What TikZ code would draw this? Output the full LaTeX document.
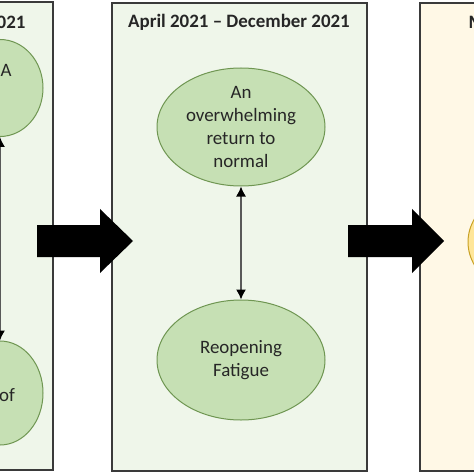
\documentclass[tikz,border=0pt]{standalone}
\usepackage{fontspec}
\setmainfont{Carlito}
\usetikzlibrary{arrows.meta,shapes.geometric}
\definecolor{panelgreen}{HTML}{EFF6EA}
\definecolor{paneltan}{HTML}{FFF8E6}
\definecolor{leafgreen}{HTML}{C6E0B4}
\definecolor{leafedge}{HTML}{6F9652}
\definecolor{sunfill}{HTML}{FFE699}
\definecolor{sunedge}{HTML}{C9A227}
\definecolor{frame}{HTML}{3A3A3A}
\definecolor{linkgray}{HTML}{595959}
\definecolor{ink}{HTML}{262626}

\begin{document}
\begin{tikzpicture}[x=1bp, y=-1bp,
  panel/.style={draw=frame, line width=1.2bp},
  phase/.style={ellipse, draw=leafedge, fill=leafgreen, line width=1bp, minimum width=168bp, minimum height=118bp, inner sep=0pt, align=center, text=ink, font=\fontsize{19}{23}\selectfont},
  phasetext/.style={text=ink, inner sep=0pt, font=\fontsize{19}{23}\selectfont},
  title/.style={font=\fontsize{19}{22}\selectfont\bfseries, text=ink},
  tie/.style={draw=linkgray, line width=1.3bp, {Latex[length=10bp,width=10bp,color=black]}-{Latex[length=10bp,width=10bp,color=black]}}]
\useasboundingbox (0,0) rectangle (474,474);
\clip (0,0) rectangle (474,474);
\fill[white] (0,0) rectangle (474,474);
% panels
\draw[panel, fill=panelgreen] (-202,2) rectangle (53,470);
\draw[panel, fill=panelgreen] (112,3) rectangle (367,471);
\draw[panel, fill=paneltan] (420,3) rectangle (675,471);
% titles
\node[title, anchor=east] (lefttitle) at (29,22) {021};
\node[title] (midtitle) at (239,22) {April 2021 – December 2021};
\node[title, anchor=west] (righttitle) at (465,22) {M};
% block arrows between panels
\fill[black] (37,225) -- (100,225) -- (100,209) -- (133,241) -- (100,273) -- (100,257) -- (37,257) -- cycle;
\fill[black] (348,225) -- (412,225) -- (412,209) -- (444,241) -- (412,273) -- (412,257) -- (348,257) -- cycle;
% left panel
\node[phase, minimum width=86bp, minimum height=97bp] (leftup) at (0,88) {};
\node[phasetext] (leftuptext) at (6,70) {A};
\node[phase, minimum width=86bp, minimum height=104bp] (leftdown) at (0,393) {};
\node[phasetext] (leftdowntext) at (7,395) {of};
\draw[tie] (leftup) -- (leftdown);
% middle panel
\node[phase] (return) at (241,127) {An\\overwhelming\\return to\\normal};
\node[phase, minimum height=120bp] (fatigue) at (241,360) {Reopening\\Fatigue};
\draw[tie] (return) -- (fatigue);
% right panel
\node[phase, draw=sunedge, fill=sunfill, minimum height=120bp] (nextstage) at (552,242) {};
\end{tikzpicture}
\end{document}
